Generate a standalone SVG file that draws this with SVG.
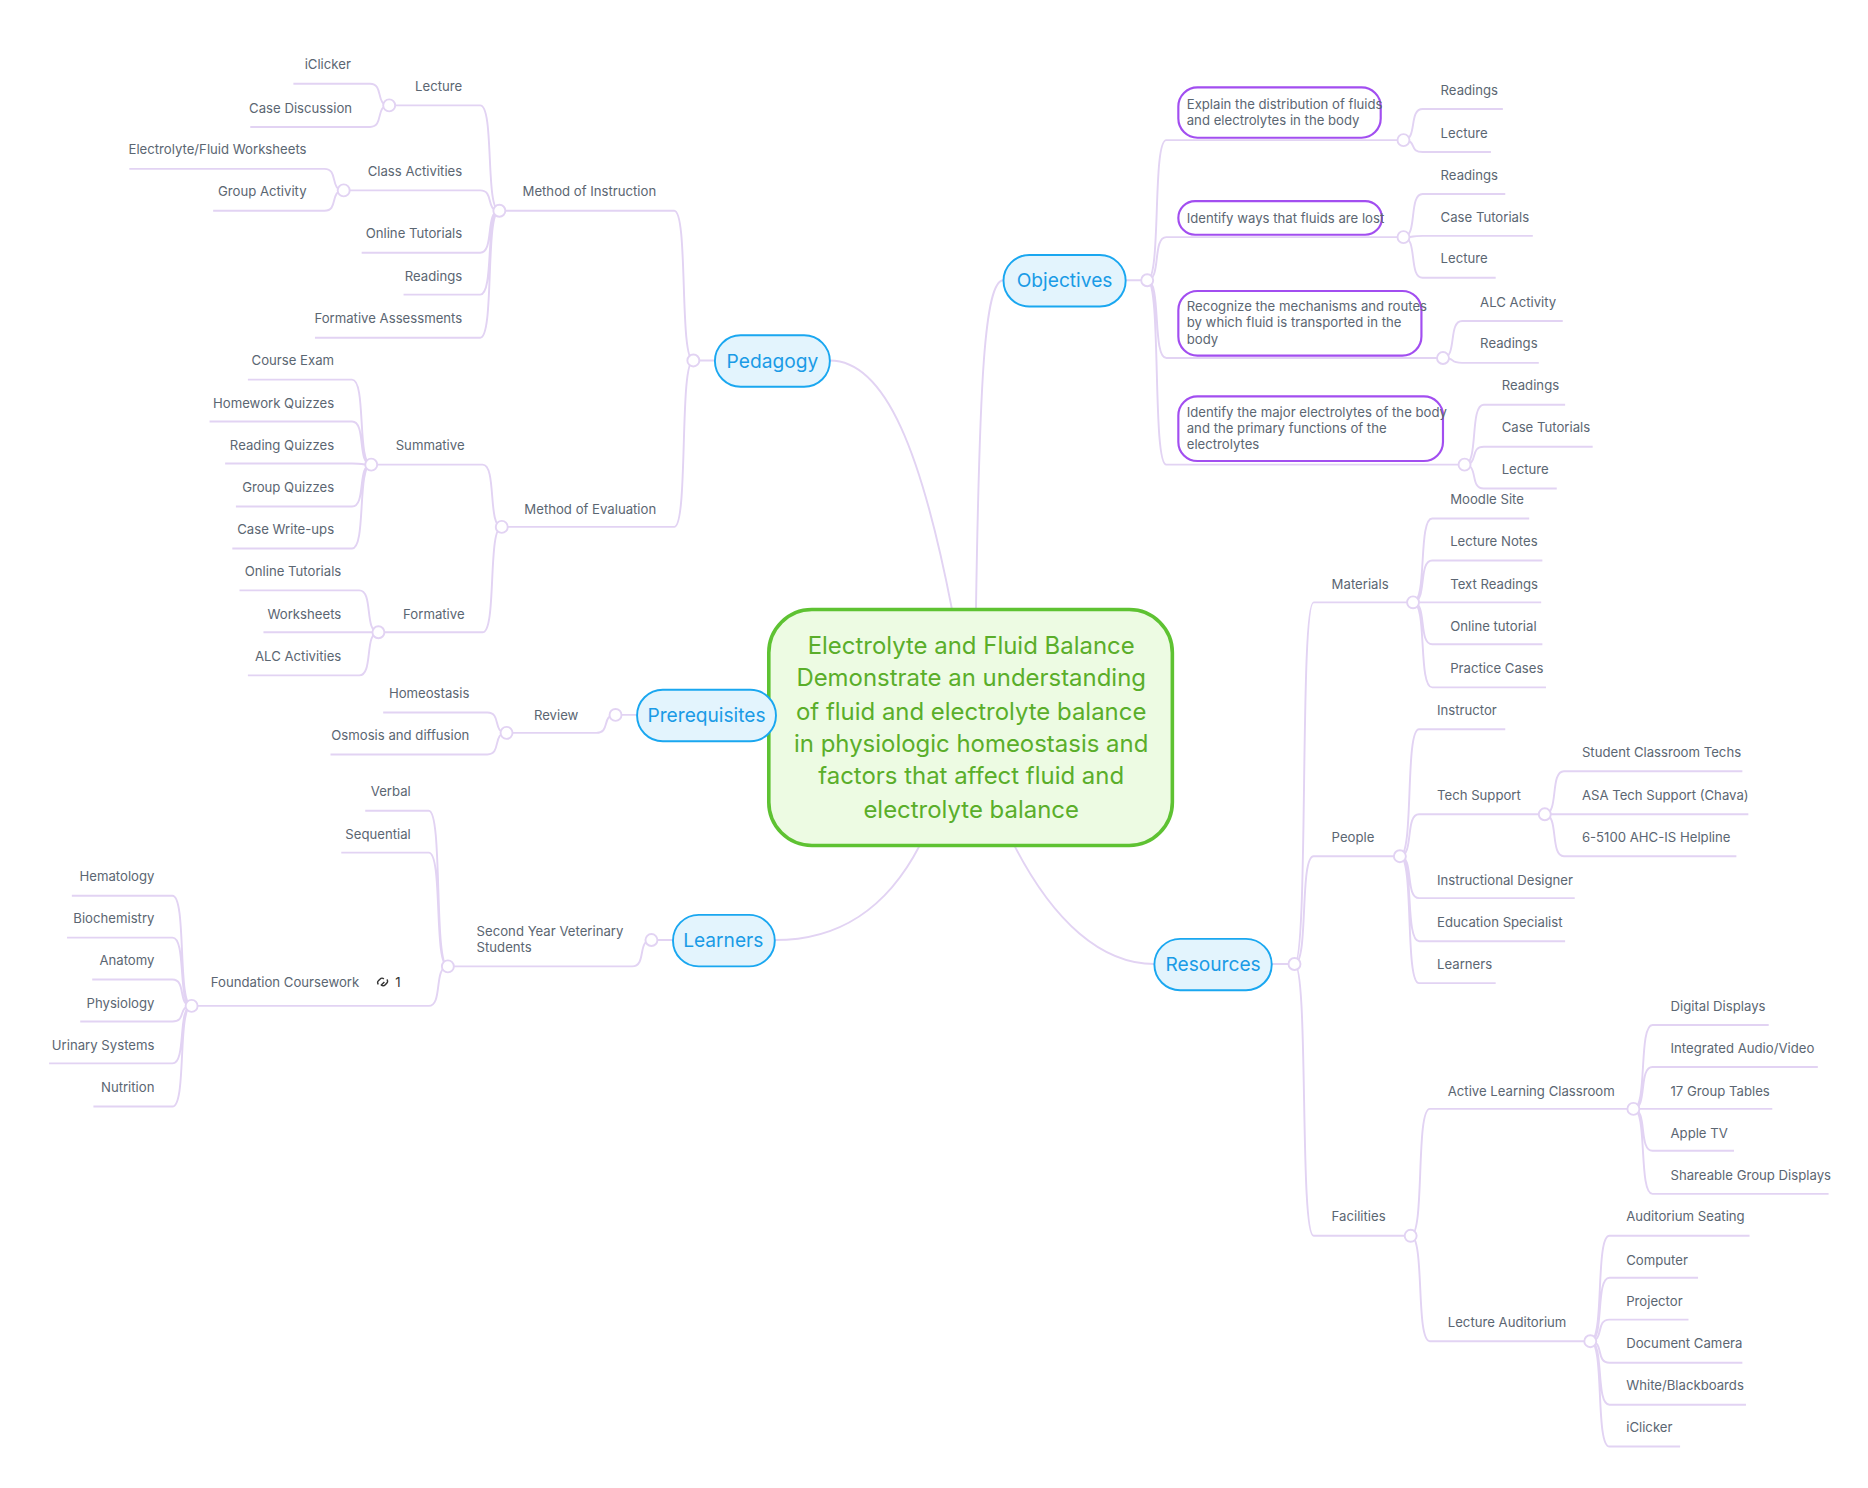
<svg xmlns="http://www.w3.org/2000/svg" width="1868" height="1488" viewBox="0 0 1868 1488">
<style>
.c{fill:none;stroke:#e2d3f3;stroke-width:1.6}
.j{fill:#fff;stroke:#e2d3f3;stroke-width:1.6}
.t{font-family:Inter,"Noto Sans",sans-serif;font-size:11px;fill:#5b6672}
.e{text-anchor:end}
.tp rect{fill:#e3f4fd;stroke:#1aa7f0;stroke-width:1.6}
.tp text{font-family:Inter,"Noto Sans",sans-serif;font-size:16px;fill:#1a9be6;text-anchor:middle}
.ob rect{fill:#fff;stroke:#a24ef0;stroke-width:1.8}
</style>
<rect width="1868" height="1488" fill="#fff"/>
<g transform="scale(1.1975)">
<g id="connectors">
<path class="c" d="M815 509C818 320 822 234 838 234M795 509C770 380 740 301 693 301M768 706C740 760 700 785 647 785M847 706C880 770 920 805 964 805M940 234H958M597 301H579M532 597H514M562 785H544M1062 805H1081"/>
<path class="c" d="M958 234C970 234 962 117 974 117H1172M958 234C970 234 962 198 974 198H1172M958 234C970 234 962 299 974 299H1205M958 234C970 234 962 388 974 388H1223
M1172 117C1184 117 1176 91 1188 91H1255M1172 117C1184 117 1176 127 1188 127H1245
M1172 198C1184 198 1176 162 1188 162H1257M1172 198C1184 198 1176 197 1188 197H1280M1172 198C1184 198 1176 232 1188 232H1249
M1205 299C1217 299 1209 268 1221 268H1305M1205 299C1217 299 1209 303 1221 303H1285
M1223 388C1235 388 1227 338 1239 338H1307M1223 388C1235 388 1227 373 1239 373H1330M1223 388C1235 388 1227 408 1239 408H1300"/>
<path class="c" d="M579 301C567 301 575 176 563 176H417M579 301C567 301 575 440 563 440H419
M417 176C405 176 413 88 401 88H325M417 176C405 176 413 159 401 159H287M417 176C405 176 413 211 401 211H302M417 176C405 176 413 246 401 246H337M417 176C405 176 413 282 401 282H263
M325 88C313 88 321 70 309 70H245M325 88C313 88 321 106 309 106H209
M287 159C275 159 283 141 271 141H108M287 159C275 159 283 176 271 176H178
M419 440C407 440 415 388 403 388H310M419 440C407 440 415 528 403 528H316
M310 388C298 388 306 317 294 317H207M310 388C298 388 306 352 294 352H175M310 388C298 388 306 387 294 387H188M310 388C298 388 306 423 294 423H197M310 388C298 388 306 458 294 458H194
M316 528C304 528 312 493 300 493H200M316 528C304 528 312 528 300 528H220M316 528C304 528 312 564 300 564H207"/>
<path class="c" d="M514 597C502 597 510 612 498 612H423M423 612C411 612 419 595 407 595H320M423 612C411 612 419 630 407 630H276
M544 785C532 785 540 807 528 807H374M374 807C362 807 370 677 358 677H305M374 807C362 807 370 712 358 712H285M374 807C362 807 370 840 358 840H160
M160 840C148 840 156 748 144 748H60M160 840C148 840 156 783 144 783H56M160 840C148 840 156 818 144 818H77M160 840C148 840 156 853 144 853H67M160 840C148 840 156 888 144 888H41M160 840C148 840 156 924 144 924H78"/>
<path class="c" d="M1081 805C1093 805 1085 503 1097 503H1180M1081 805C1093 805 1085 715 1097 715H1169M1081 805C1093 805 1085 1032 1097 1032H1178
M1180 503C1192 503 1184 433 1196 433H1277M1180 503C1192 503 1184 468 1196 468H1288M1180 503C1192 503 1184 503 1196 503H1287M1180 503C1192 503 1184 538 1196 538H1288M1180 503C1192 503 1184 574 1196 574H1291
M1169 715C1181 715 1173 609 1185 609H1257M1169 715C1181 715 1173 680 1185 680H1290M1169 715C1181 715 1173 750 1185 750H1315M1169 715C1181 715 1173 786 1185 786H1307M1169 715C1181 715 1173 821 1185 821H1249
M1290 680C1302 680 1294 644 1306 644H1455M1290 680C1302 680 1294 680 1306 680H1460M1290 680C1302 680 1294 715 1306 715H1450
M1178 1032C1190 1032 1182 926 1194 926H1364M1178 1032C1190 1032 1182 1120 1194 1120H1328
M1364 926C1376 926 1368 856 1380 856H1477M1364 926C1376 926 1368 891 1380 891H1518M1364 926C1376 926 1368 926 1380 926H1480M1364 926C1376 926 1368 961 1380 961H1448M1364 926C1376 926 1368 997 1380 997H1527
M1328 1120C1340 1120 1332 1032 1344 1032H1461M1328 1120C1340 1120 1332 1067 1344 1067H1418M1328 1120C1340 1120 1332 1102 1344 1102H1410M1328 1120C1340 1120 1332 1138 1344 1138H1455M1328 1120C1340 1120 1332 1173 1344 1173H1458M1328 1120C1340 1120 1332 1208 1344 1208H1403"/>
<g>
<circle class="j" cx="958" cy="234" r="5"/><circle class="j" cx="1172" cy="117" r="5"/><circle class="j" cx="1172" cy="198" r="5"/><circle class="j" cx="1205" cy="299" r="5"/><circle class="j" cx="1223" cy="388" r="5"/>
<circle class="j" cx="579" cy="301" r="5"/><circle class="j" cx="417" cy="176" r="5"/><circle class="j" cx="325" cy="88" r="5"/><circle class="j" cx="287" cy="159" r="5"/><circle class="j" cx="419" cy="440" r="5"/><circle class="j" cx="310" cy="388" r="5"/><circle class="j" cx="316" cy="528" r="5"/>
<circle class="j" cx="514" cy="597" r="5"/><circle class="j" cx="423" cy="612" r="5"/><circle class="j" cx="544" cy="785" r="5"/><circle class="j" cx="374" cy="807" r="5"/><circle class="j" cx="160" cy="840" r="5"/>
<circle class="j" cx="1081" cy="805" r="5"/><circle class="j" cx="1180" cy="503" r="5"/><circle class="j" cx="1169" cy="715" r="5"/><circle class="j" cx="1290" cy="680" r="5"/><circle class="j" cx="1178" cy="1032" r="5"/><circle class="j" cx="1364" cy="926" r="5"/><circle class="j" cx="1328" cy="1120" r="5"/>
</g>
</g>
<g id="center">
<rect x="642" y="509" width="337" height="197" rx="36" fill="#edfbe3" stroke="#5ec232" stroke-width="3"/>
<text font-family="Inter,'Noto Sans',sans-serif" font-size="20" fill="#5aae2a" text-anchor="middle"><tspan x="811" y="546">Electrolyte and Fluid Balance</tspan><tspan x="811" y="573">Demonstrate an understanding</tspan><tspan x="811" y="601">of fluid and electrolyte balance</tspan><tspan x="811" y="628">in physiologic homeostasis and</tspan><tspan x="811" y="655">factors that affect fluid and</tspan><tspan x="811" y="683">electrolyte balance</tspan></text>
</g>
<g id="objectives" class="tp"><rect x="838" y="213" width="102" height="43" rx="21.5"/><text x="889" y="240">Objectives</text></g>
<g id="pedagogy" class="tp"><rect x="597" y="280" width="96" height="43" rx="21.5"/><text x="645" y="307">Pedagogy</text></g>
<g id="prerequisites" class="tp"><rect x="532" y="576" width="116" height="43" rx="21.5"/><text x="590" y="603">Prerequisites</text></g>
<g id="learners" class="tp"><rect x="562" y="764" width="85" height="43" rx="21.5"/><text x="604" y="791">Learners</text></g>
<g id="resources" class="tp"><rect x="964" y="784" width="98" height="43" rx="21.5"/><text x="1013" y="811">Resources</text></g>
<g id="obj1" class="ob"><rect x="984" y="73" width="169" height="42" rx="16"/><text class="t"><tspan x="991" y="91">Explain the distribution of fluids</tspan><tspan x="991" y="104">and electrolytes in the body</tspan></text></g>
<g id="obj2" class="ob"><rect x="984" y="168" width="170" height="28" rx="14"/><text class="t" x="991" y="186">Identify ways that fluids are lost</text></g>
<g id="obj3" class="ob"><rect x="984" y="243" width="203" height="54" rx="16"/><text class="t"><tspan x="991" y="260">Recognize the mechanisms and routes</tspan><tspan x="991" y="273">by which fluid is transported in the</tspan><tspan x="991" y="287">body</tspan></text></g>
<g id="obj4" class="ob"><rect x="984" y="331" width="221" height="54" rx="16"/><text class="t"><tspan x="991" y="348">Identify the major electrolytes of the body</tspan><tspan x="991" y="362">and the primary functions of the</tspan><tspan x="991" y="375">electrolytes</tspan></text></g>
<g id="obj-children" class="t">
<text x="1203" y="79">Readings</text><text x="1203" y="115">Lecture</text>
<text x="1203" y="150">Readings</text><text x="1203" y="185">Case Tutorials</text><text x="1203" y="220">Lecture</text>
<text x="1236" y="256">ALC Activity</text><text x="1236" y="291">Readings</text>
<text x="1254" y="326">Readings</text><text x="1254" y="361">Case Tutorials</text><text x="1254" y="396">Lecture</text>
</g>
<g id="pedagogy-children" class="t e">
<text x="548" y="164">Method of Instruction</text><text x="548" y="429">Method of Evaluation</text>
<text x="386" y="76">Lecture</text><text x="386" y="147">Class Activities</text><text x="386" y="199">Online Tutorials</text><text x="386" y="235">Readings</text><text x="386" y="270">Formative Assessments</text>
<text x="293" y="58">iClicker</text><text x="294" y="94">Case Discussion</text>
<text x="256" y="129">Electrolyte/Fluid Worksheets</text><text x="256" y="164">Group Activity</text>
<text x="388" y="376">Summative</text><text x="388" y="517">Formative</text>
<text x="279" y="305">Course Exam</text><text x="279" y="341">Homework Quizzes</text><text x="279" y="376">Reading Quizzes</text><text x="279" y="411">Group Quizzes</text><text x="279" y="446">Case Write-ups</text>
<text x="285" y="481">Online Tutorials</text><text x="285" y="517">Worksheets</text><text x="285" y="552">ALC Activities</text>
</g>
<g id="prereq-children" class="t e">
<text x="483" y="601">Review</text><text x="392" y="583">Homeostasis</text><text x="392" y="618">Osmosis and diffusion</text>
</g>
<g id="learners-children" class="t">
<text x="398" y="782">Second Year Veterinary</text><text x="398" y="795">Students</text>
<text class="e" x="343" y="665">Verbal</text><text class="e" x="343" y="701">Sequential</text>
<text class="e" x="300" y="824">Foundation Coursework</text>
<g fill="none" stroke="#333" stroke-width="1.2"><path d="M318 823l3-3M316 822a2 2 0 0 1 0-3l1.5-1.5a2 2 0 0 1 3 0M323 818a2 2 0 0 1 0 3l-1.5 1.5a2 2 0 0 1-3 0"/></g>
<text x="330" y="824" style="fill:#333">1</text>
<text class="e" x="129" y="736">Hematology</text><text class="e" x="129" y="771">Biochemistry</text><text class="e" x="129" y="806">Anatomy</text><text class="e" x="129" y="842">Physiology</text><text class="e" x="129" y="877">Urinary Systems</text><text class="e" x="129" y="912">Nutrition</text>
</g>
<g id="resources-children" class="t">
<text x="1112" y="492">Materials</text><text x="1112" y="703">People</text><text x="1112" y="1020">Facilities</text>
<text x="1211" y="421">Moodle Site</text><text x="1211" y="456">Lecture Notes</text><text x="1211" y="492">Text Readings</text><text x="1211" y="527">Online tutorial</text><text x="1211" y="562">Practice Cases</text>
<text x="1200" y="597">Instructor</text><text x="1200" y="668">Tech Support</text><text x="1200" y="739">Instructional Designer</text><text x="1200" y="774">Education Specialist</text><text x="1200" y="809">Learners</text>
<text x="1321" y="632">Student Classroom Techs</text><text x="1321" y="668">ASA Tech Support (Chava)</text><text x="1321" y="703">6-5100 AHC-IS Helpline</text>
<text x="1209" y="915">Active Learning Classroom</text><text x="1209" y="1108">Lecture Auditorium</text>
<text x="1395" y="844">Digital Displays</text><text x="1395" y="879">Integrated Audio/Video</text><text x="1395" y="915">17 Group Tables</text><text x="1395" y="950">Apple TV</text><text x="1395" y="985">Shareable Group Displays</text>
<text x="1358" y="1020">Auditorium Seating</text><text x="1358" y="1056">Computer</text><text x="1358" y="1091">Projector</text><text x="1358" y="1126">Document Camera</text><text x="1358" y="1161">White/Blackboards</text><text x="1358" y="1196">iClicker</text>
</g>
</g>
</svg>
